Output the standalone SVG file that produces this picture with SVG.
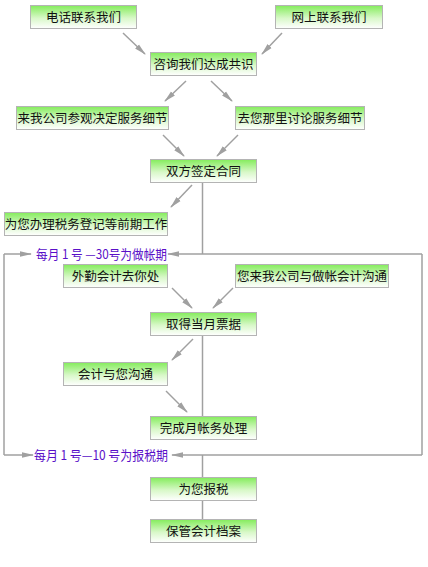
<svg xmlns="http://www.w3.org/2000/svg" width="428" height="567" viewBox="0 0 428 567">
<style>
.box{fill:url(#g);stroke:#b4b4b4;stroke-width:1}
.t{font-family:"Noto Sans CJK SC","Liberation Sans",sans-serif;font-size:12.5px;fill:#111;text-anchor:middle}
.lbl{font-family:"Noto Sans CJK SC","Liberation Sans",sans-serif;font-size:13px;fill:#5a10c8}
.c{stroke:#a0a0a0;stroke-width:1.5;fill:none}
.a{marker-end:url(#ah)}
</style>
<defs>
<linearGradient id="g" x1="0" y1="0" x2="0" y2="1">
<stop offset="0" stop-color="#84ec5c"/>
<stop offset="0.55" stop-color="#d8f8c8"/>
<stop offset="1" stop-color="#ffffff"/>
</linearGradient>
<marker id="ah" markerUnits="userSpaceOnUse" markerWidth="12" markerHeight="7" refX="11" refY="3.5" orient="auto">
<path d="M0,0.7 L12,3.5 L0,6.3 z" fill="#a0a0a0"/>
</marker>
</defs>
<rect width="428" height="567" fill="#fff"/>
<g id="connectors">
<path class="c a" d="M123,33 L145,54"/>
<path class="c a" d="M282,33 L262,54"/>
<path class="c a" d="M186,81 L165,101"/>
<path class="c a" d="M211,81 L232,101"/>
<path class="c a" d="M163,135 L184,156"/>
<path class="c a" d="M238,135 L217,156"/>
<path class="c a" d="M192,185 L171,207"/>
<path class="c a" d="M172,288 L192,308"/>
<path class="c a" d="M233,288 L213,308"/>
<path class="c a" d="M193,339 L172,360"/>
<path class="c a" d="M166,391 L187,412"/>
<path class="c" d="M202.5,183 V254"/>
<path class="c" d="M202.5,335 V416"/>
<path class="c" d="M202.5,455 V477"/>
<path class="c" d="M202.5,500 V519"/>
<path class="c" d="M4,254 V455"/>
<path class="c a" d="M4,254 H31"/>
<path class="c a" d="M4,455 H33"/>
<path class="c" d="M422,254 V455"/>
<path class="c a" d="M422,254 H168"/>
<path class="c a" d="M422,455 H172"/>
</g>
<g id="n1"><rect class="box" x="30.5" y="5.5" width="106" height="23"/><text class="t" x="83.5" y="21.5">电话联系我们</text></g>
<g id="n2"><rect class="box" x="275.5" y="5.5" width="107" height="23"/><text class="t" x="329" y="21.5">网上联系我们</text></g>
<g id="n3"><rect class="box" x="150.5" y="52.5" width="106" height="23"/><text class="t" x="203.5" y="68.5">咨询我们达成共识</text></g>
<g id="n4"><rect class="box" x="16.5" y="106.5" width="152" height="23"/><text class="t" x="92.5" y="122.5">来我公司参观决定服务细节</text></g>
<g id="n5"><rect class="box" x="235.5" y="106.5" width="129" height="23"/><text class="t" x="300" y="122.5">去您那里讨论服务细节</text></g>
<g id="n6"><rect class="box" x="150.5" y="159.5" width="106" height="23"/><text class="t" x="203.5" y="175.5">双方签定合同</text></g>
<g id="n7"><rect class="box" x="4.5" y="212.5" width="163" height="23"/><text class="t" x="86" y="228.5">为您办理税务登记等前期工作</text></g>
<g id="lbl1"><text class="lbl" x="36" y="259" textLength="131" lengthAdjust="spacingAndGlyphs">每月 1 号 —30号为做帐期</text></g>
<g id="n8"><rect class="box" x="63.5" y="264.5" width="104" height="23"/><text class="t" x="115.5" y="280.5">外勤会计去你处</text></g>
<g id="n9"><rect class="box" x="235.5" y="264.5" width="153" height="23"/><text class="t" x="312" y="280.5">您来我公司与做帐会计沟通</text></g>
<g id="n10"><rect class="box" x="150.5" y="312.5" width="106" height="23"/><text class="t" x="203.5" y="328.5">取得当月票据</text></g>
<g id="n11"><rect class="box" x="63.5" y="362.5" width="104" height="23"/><text class="t" x="115.5" y="378.5">会计与您沟通</text></g>
<g id="n12"><rect class="box" x="150.5" y="416.5" width="106" height="23"/><text class="t" x="203.5" y="432.5">完成月帐务处理</text></g>
<g id="lbl2"><text class="lbl" x="34" y="460" textLength="134" lengthAdjust="spacingAndGlyphs">每月 1 号—10 号为报税期</text></g>
<g id="n13"><rect class="box" x="150.5" y="477.5" width="106" height="23"/><text class="t" x="203.5" y="493.5">为您报税</text></g>
<g id="n14"><rect class="box" x="150.5" y="519.5" width="106" height="23"/><text class="t" x="203.5" y="535.5">保管会计档案</text></g>
</svg>
